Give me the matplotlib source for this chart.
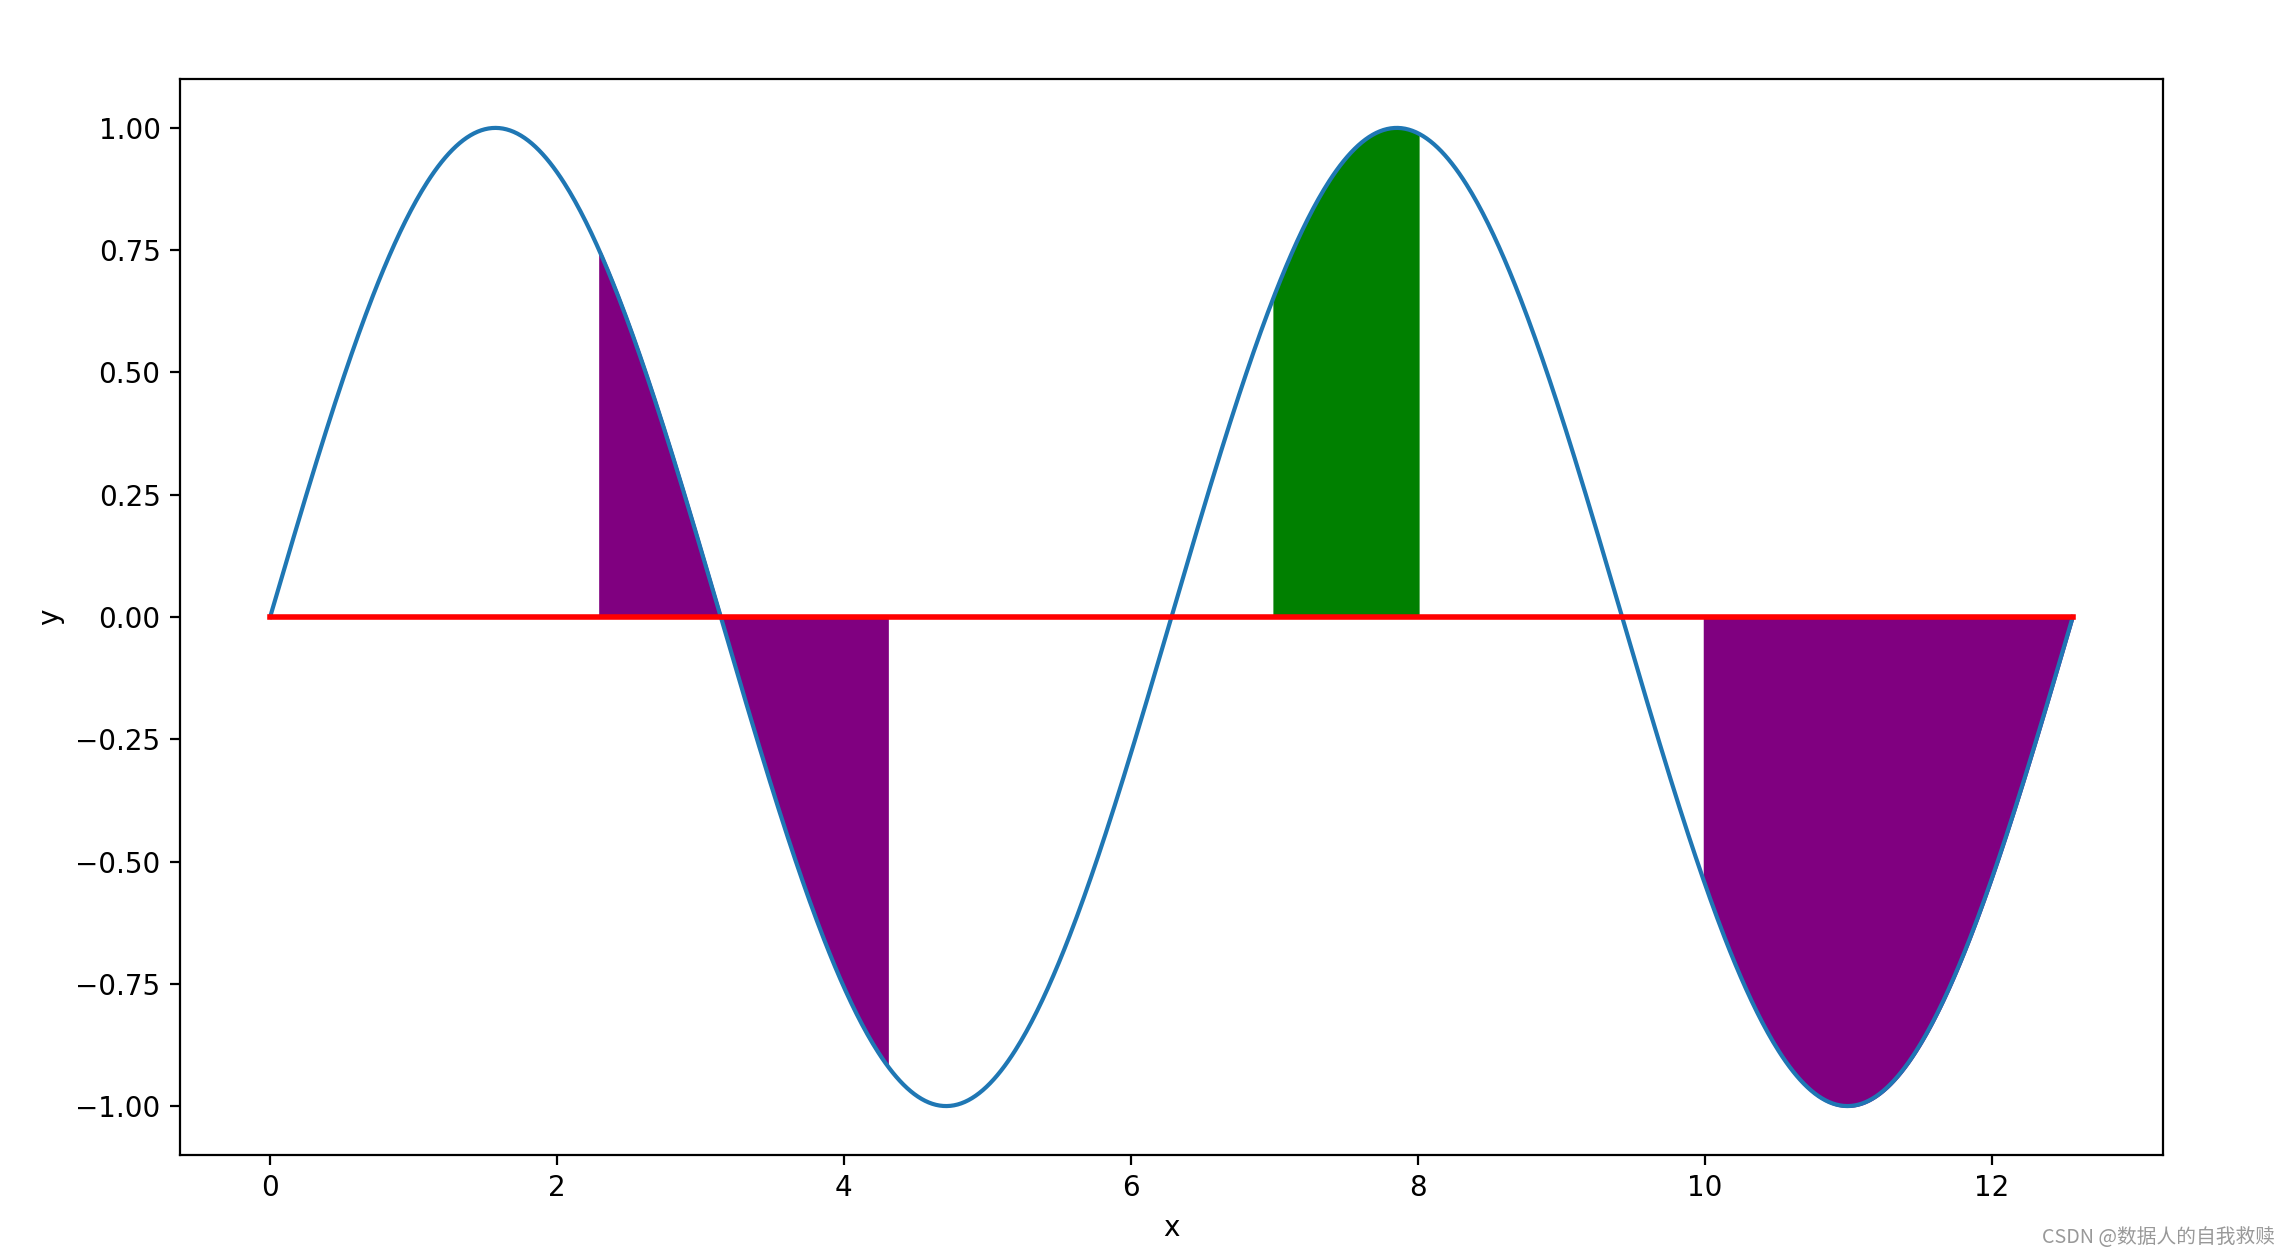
import numpy as np
import matplotlib
matplotlib.use('Agg')
import matplotlib.pyplot as plt

# curve: y = sin(x) over [0, 4*pi]
x_start, x_end = 0, 4 * np.pi
n_points = 1000

# shaded x-ranges and their colours
fill_ranges = [(2.3, 4.3), (7, 8), (10, 4 * np.pi)]
fill_colors = ['purple', 'green', 'purple']

x = np.linspace(x_start, x_end, n_points)
y = np.sin(x)

fig = plt.figure(figsize=(11.45, 6.29), dpi=200)
ax = fig.add_axes([0.0786, 0.0819, 0.8659, 0.8553])

ax.plot(x, y)
for (a, b), c in zip(fill_ranges, fill_colors):
    xs = np.linspace(a, b, 300)
    ax.fill_between(xs, np.sin(xs), 0, color=c)
ax.plot(x, np.zeros_like(x), color='red', linewidth=2)

ax.set_xlabel('x')
ax.set_ylabel('y')

fig.text(0.9935, 0.016, 'CSDN @数据人的自我救赎', ha='right', va='center',
         fontsize=7.1, color='#999999', family=['Noto Sans CJK SC', 'DejaVu Sans'])

fig.savefig('out.png', dpi=200)
